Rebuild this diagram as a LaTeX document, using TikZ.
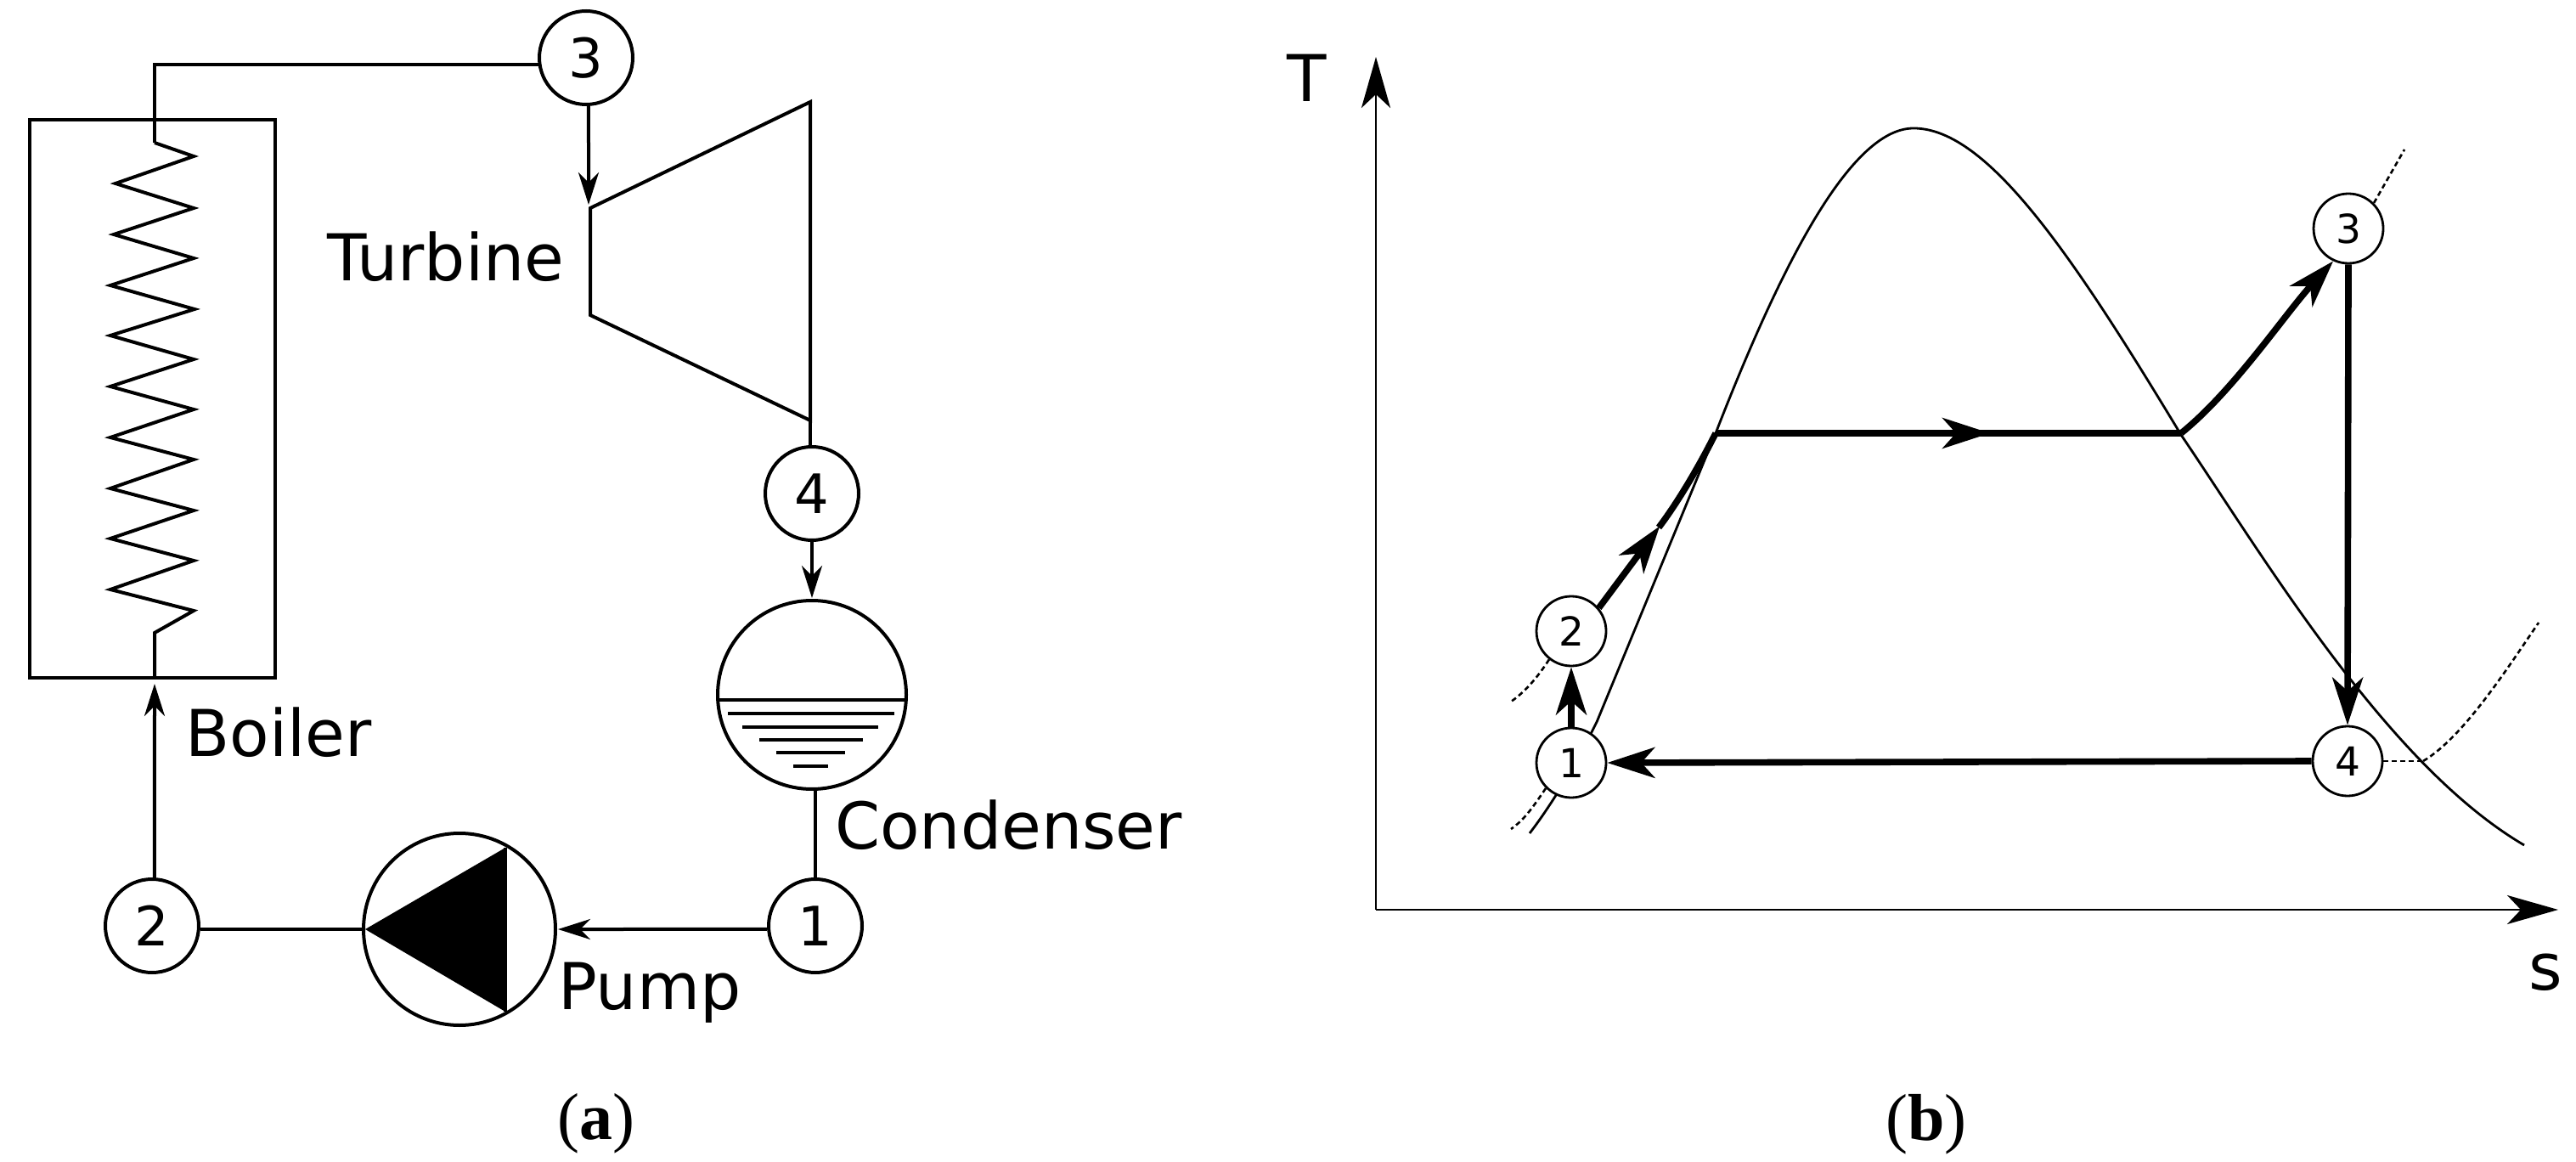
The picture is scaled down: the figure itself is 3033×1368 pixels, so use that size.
\documentclass[tikz,border=0pt]{standalone}
\usepackage{fontspec}
\setmainfont{DejaVu Sans}
\newfontfamily\capfont{Liberation Serif}
\usetikzlibrary{arrows.meta}
\tikzset{
  x=0.5pt,y=-0.5pt,
  ln/.style={line width=2pt,line join=miter},
  thinln/.style={line width=1.4pt,line join=round},
  thk/.style={line width=3.8pt},
  dotln/.style={line width=1.3pt,dash pattern=on 3pt off 2pt},
  atip/.style={-{Stealth[length=19pt,width=12pt,inset=6pt]}},
  btip/.style={-{Stealth[length=28pt,width=18pt,inset=8pt]}},
  axtip/.style={-{Stealth[length=30pt,width=17pt,inset=8pt]}},
  bigc/.style={circle,draw,line width=2pt,fill=white,minimum size=55pt,inner sep=0pt,font=\fontsize{32}{32}\selectfont},
  smc/.style={circle,draw,line width=1.4pt,fill=white,minimum size=41pt,inner sep=0pt,font=\fontsize{23.5}{24}\selectfont},
  lab/.style={anchor=base west,inner sep=0pt,font=\fontsize{38}{38}\selectfont},
  captxt/.style={anchor=base,inner sep=0pt,font=\capfont\fontsize{39}{39}\selectfont},
}
\begin{document}
\begin{tikzpicture}
\useasboundingbox (0,0) rectangle (3033,1368);
% ---------- (a) ----------
\node[bigc] (a3) at (690,68) {3};
\node[bigc] (a4) at (956,581) {4};
\node[bigc] (a1) at (960,1090) {1};
\node[bigc] (a2) at (179,1090) {2};
\node[draw,line width=2pt,circle,minimum size=113pt,inner sep=0pt] (pump) at (541,1094) {};
\node[draw,line width=2pt,circle,minimum size=111pt,inner sep=0pt] (cond) at (956,818) {};
\coordinate (coilT) at (182,168);
\coordinate (coilB) at (182,745);
\coordinate (boilIn) at (182,805);
\coordinate (boilBot) at (182,798);
\coordinate (turbIn) at (693,241);
\coordinate (tA) at (695,245);
\coordinate (tB) at (954,120);
\coordinate (tC) at (954,495);
\coordinate (tD) at (695,371);
\coordinate (condIn) at (956,704);
\coordinate (pumpIn) at (657,1094);
% boiler
\draw[ln] (35,141) rectangle (324,798);
\draw[ln] (a3.188) -| (coilT);
\draw[ln] (coilT) -- (228,184) -- (136,216) -- (228,245) -- (134,276) -- (228,304)
  -- (130,336) -- (229,364) -- (130,395) -- (228,423) -- (130,455) -- (228,482)
  -- (130,515) -- (228,541) -- (130,575) -- (228,601) -- (130,634) -- (228,660)
  -- (130,694) -- (228,719) -- (coilB) -- (boilBot);
% turbine
\draw[ln] (tA) -- (tB) -- (tC) -- (tD) -- cycle;
\draw[ln,atip] (a3.273) -- (turbIn);
\draw[ln] (tC) -- (tC |- a4.north);
\draw[ln,atip] (a4.south) -- (condIn);
% condenser
\draw[ln] (cond.south -| a1) -- (a1.north);
\draw[ln] (845,823.5) -- (1067,823.5);
\draw[ln] (857,840) -- (1053,840);
\draw[ln] (874,856) -- (1034,856);
\draw[ln] (894,871) -- (1016,871);
\draw[ln] (914,886) -- (995,886);
\draw[ln] (934,902) -- (975,902);
% pump
\fill (430,1094) -- (595,998) -- (595,1191) -- cycle;
\draw[ln] (595,998) -- (595,1191);
\draw[ln] (a2.east |- pump) -- (pump.west);
\draw[ln,atip] (a1.184) -- (pumpIn);
\draw[ln,atip] (a2.87) -- (boilIn);
\node[lab] (tTurb) at (385,331) {Turbine};
\node[lab] (tBoil) at (218,890) {Boiler};
\node[lab] (tCond) at (983,999) {Condenser};
\node[lab] (tPump) at (657,1188) {Pump};
\node[captxt] (capa) at (702,1341) {(\textbf{a})};
% ---------- (b) ----------
\coordinate (org) at (1620,1071);
\coordinate (yEnd) at (1620,67);
\coordinate (xEnd) at (3012,1071);
\draw[thinln,axtip] (org) -- (yEnd);
\draw[thinln,axtip] (org) -- (xEnd);
\node[lab] (tT) at (1515,120) {T};
\node[lab] (ts) at (2977,1165) {s};
% saturation dome
\draw[thinln] (1801,981) .. controls (1840,930) and (1870,870) .. (1880,850)
  -- (2020,510)
  .. controls (2090,330) and (2175,151) .. (2253,151)
  .. controls (2340,151) and (2440,300) .. (2568,512)
  .. controls (2665,655) and (2810,900) .. (2972,995);
\node[smc] (b1) at (1850,898) {1};
\node[smc] (b2) at (1850,743) {2};
\node[smc] (b3) at (2765,269) {3};
\node[smc] (b4) at (2764,896) {4};
\coordinate (sl) at (2020,510);
\coordinate (sr) at (2568,510);
\coordinate (mid) at (2343,510);
\coordinate (d1) at (1779,976);
\coordinate (d2) at (1779,826);
\coordinate (d3) at (2831,176);
\coordinate (d4) at (2853,896);
\coordinate (d5) at (2989,733);
% dotted isobars
\draw[dotln] (b1.225) .. controls (1805,950) and (1795,965) .. (d1);
\draw[dotln] (b2.232) .. controls (1810,798) and (1795,815) .. (d2);
\draw[dotln] (b3.45) -- (d3);
\draw[dotln] (b4.east) -- (d4);
\draw[dotln] (d4) .. controls (2900,868) and (2950,790) .. (d5);
% thick process lines
\draw[thk] (sl) -- (sr);
\draw[thk,btip] (sl) -- (mid);
\draw[thk,btip] (sr) .. controls (2630,460) and (2690,370) .. (b3.245);
\draw[thk,btip] (b3.south) -- (b4.north);
\draw[thk,btip] (b4.west) -- (b1.east);
\draw[thk,btip] (b1.north) -- (b2.south);
\coordinate (tip2) at (1953,621);
\draw[thk] (tip2) .. controls (1975,592) and (2000,550) .. (sl);
\draw[thk,btip,shorten >=-1pt] (b2.40) -- (tip2);
\node[captxt] (capb) at (2268,1342) {(\textbf{b})};
\end{tikzpicture}
\end{document}
